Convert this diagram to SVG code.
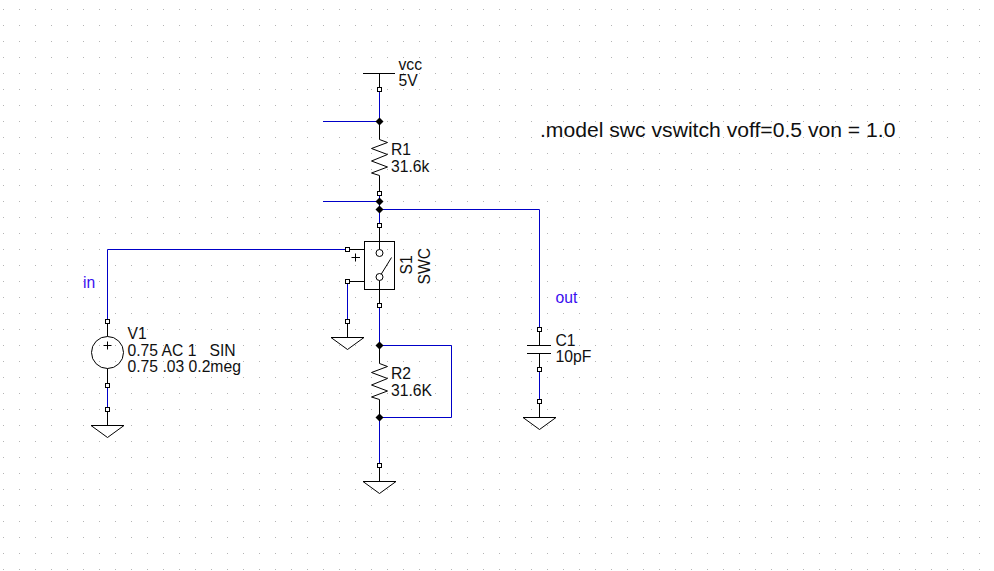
<svg xmlns="http://www.w3.org/2000/svg" width="994" height="571" viewBox="0 0 994 571">
<style>
text{font-family:"Liberation Sans",Arial,sans-serif;font-size:15.700px;fill:#101010;white-space:pre}
.net{fill:#3a10f0}
.wire{fill:none;stroke:#0000c8;stroke-width:1}
.lead,.sym{fill:none;stroke:#000;stroke-width:1}
.j{fill:#000;stroke:none}
.p{fill:#fff;stroke:#000;stroke-width:1}
</style>
<defs>
<pattern id="grid" x="3" y="9" width="16" height="16" patternUnits="userSpaceOnUse"><rect width="1" height="1" fill="#b4b4b4"/></pattern>
<path id="gnd" class="sym" d="M-16 0.500H17L0.500 12.500L-16 0.500"/>
<path id="res" class="lead" d="M379.500 0L387.500 3L371.500 9L387.500 15L371.500 21.500L387.500 27.500L371.500 33.500L379.500 36"/>
<path id="jn" class="j" d="M0 -4L4 0L0 4L-4 0Z"/>
<rect id="pin" class="p" x="-2" y="-2" width="4" height="4"/>
</defs>
<rect width="994" height="571" fill="#fff"/>
<rect width="994" height="571" fill="url(#grid)"/>
<g id="connectors">
<path class="wire" d="M379.500 89.500V121.500M323 121.500H379.500M379.500 193.500V225.500M323 201.500H379.500M379.500 209.500H539.500V329.500"/>
<path class="wire" d="M107.500 321.500V249.500H347.500M347.500 281.500V321.500M379.500 305.500V345.500M379.500 417.500V465.500M379.500 345.500H451.500V417.500H379.500"/>
<path class="wire" d="M107.500 385.500V409.500M539.500 369.500V401.500"/>
</g>
<g id="vcc">
<path class="sym" d="M363 73.500H395M379.500 73.500V89.500"/>
<text x="398.500" y="69.500">vcc</text><text x="398.500" y="86">5V</text>
</g>
<g id="R1">
<use href="#res" y="139.500"/>
<path class="lead" d="M379.500 121.500V139.500M379.500 175.500V193.500"/>
<text x="391" y="155">R1</text><text x="391" y="172">31.6k</text>
</g>
<g id="S1">
<path class="lead" d="M379.500 225.500V249.500M379.500 280.500V305.500M347.500 249.500H364.500M347.500 281.500H364.500M381 274.500L391.500 257.500"/>
<rect class="sym" x="364.500" y="241.500" width="30" height="48"/>
<circle class="p" cx="379.500" cy="253" r="3.500"/><circle class="p" cx="379.500" cy="277" r="3.500"/>
<path class="sym" d="M351.500 257.500H360M355.500 253.500V261.500"/>
<text transform="translate(412 274.500) rotate(-90)">S1</text>
<text transform="translate(429.500 284.500) rotate(-90)">SWC</text>
</g>
<g id="R2">
<use href="#res" y="363.500"/>
<path class="lead" d="M379.500 345.500V363.500M379.500 399.500V417.500"/>
<text x="391" y="379">R2</text><text x="391" y="396">31.6K</text>
</g>
<g id="V1">
<circle class="sym" cx="107.500" cy="352.500" r="16"/>
<path class="lead" d="M107.500 321.500V336.500M107.500 368.500V385.500M107.500 409.500V425.500M103.500 345.500H111.500M107.500 341.500V349.500"/>
<text x="127.500" y="339">V1</text><text x="127.500" y="356">0.75 AC 1   SIN</text><text x="127.500" y="372">0.75 .03 0.2meg</text>
</g>
<g id="C1">
<path class="lead" d="M539.500 329.500V345.500M539.500 353.500V369.500M527 345.500H551M527 353.500H551M539.500 401.500V417.500"/>
<text x="555.500" y="345.500">C1</text><text x="555.500" y="362">10pF</text>
</g>
<g id="grounds">
<path class="lead" d="M347.500 321.500V337.500M379.500 465.500V481.500"/>
<use href="#gnd" x="107" y="425"/><use href="#gnd" x="347" y="337"/><use href="#gnd" x="379" y="481"/><use href="#gnd" x="539" y="417"/>
</g>
<g id="pins">
<use href="#pin" x="379.500" y="89.500"/><use href="#pin" x="379.500" y="193.500"/><use href="#pin" x="379.500" y="225.500"/><use href="#pin" x="347.500" y="249.500"/><use href="#pin" x="347.500" y="281.500"/><use href="#pin" x="347.500" y="321.500"/><use href="#pin" x="379.500" y="305.500"/><use href="#pin" x="379.500" y="465.500"/><use href="#pin" x="107.500" y="321.500"/><use href="#pin" x="107.500" y="385.500"/><use href="#pin" x="107.500" y="409.500"/><use href="#pin" x="539.500" y="329.500"/><use href="#pin" x="539.500" y="369.500"/><use href="#pin" x="539.500" y="401.500"/>
<use href="#jn" x="379.500" y="121.500"/><use href="#jn" x="379.500" y="201.500"/><use href="#jn" x="379.500" y="209.500"/><use href="#jn" x="379.500" y="345.500"/><use href="#jn" x="379.500" y="417.500"/>
</g>
<g id="labels">
<text class="net" x="83" y="288">in</text>
<text class="net" x="555.500" y="303">out</text>
<text x="540" y="137" style="font-size:21.130px">.model swc vswitch voff=0.5 von = 1.0</text>
</g>
</svg>
